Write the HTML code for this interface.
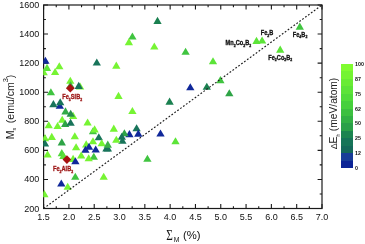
<!DOCTYPE html><html><head><meta charset="utf-8"><style>html,body{margin:0;padding:0;background:#fff}svg{display:block}text{font-family:"Liberation Sans",sans-serif}</style></head><body>
<svg width="365" height="244" viewBox="0 0 365 244">
<rect width="365" height="244" fill="#fff"/>
<defs><clipPath id="c"><rect x="43.2" y="5.0" width="278.79999999999995" height="203.5"/></clipPath></defs>
<rect x="43.6" y="5.0" width="278.4" height="203.5" fill="none" stroke="#1a1a1a" stroke-width="1.2"/>
<path d="M43.60 208.5v-4.4M43.60 5.0v4.4M56.25 208.5v-2.3M56.25 5.0v2.3M68.91 208.5v-4.4M68.91 5.0v4.4M81.56 208.5v-2.3M81.56 5.0v2.3M94.22 208.5v-4.4M94.22 5.0v4.4M106.87 208.5v-2.3M106.87 5.0v2.3M119.53 208.5v-4.4M119.53 5.0v4.4M132.18 208.5v-2.3M132.18 5.0v2.3M144.84 208.5v-4.4M144.84 5.0v4.4M157.49 208.5v-2.3M157.49 5.0v2.3M170.15 208.5v-4.4M170.15 5.0v4.4M182.80 208.5v-2.3M182.80 5.0v2.3M195.45 208.5v-4.4M195.45 5.0v4.4M208.11 208.5v-2.3M208.11 5.0v2.3M220.76 208.5v-4.4M220.76 5.0v4.4M233.42 208.5v-2.3M233.42 5.0v2.3M246.07 208.5v-4.4M246.07 5.0v4.4M258.73 208.5v-2.3M258.73 5.0v2.3M271.38 208.5v-4.4M271.38 5.0v4.4M284.04 208.5v-2.3M284.04 5.0v2.3M296.69 208.5v-4.4M296.69 5.0v4.4M309.35 208.5v-2.3M309.35 5.0v2.3M322.00 208.5v-4.4M322.00 5.0v4.4M43.6 208.50h4.4M322.0 208.50h-4.4M43.6 193.96h2.3M322.0 193.96h-2.3M43.6 179.43h4.4M322.0 179.43h-4.4M43.6 164.89h2.3M322.0 164.89h-2.3M43.6 150.36h4.4M322.0 150.36h-4.4M43.6 135.82h2.3M322.0 135.82h-2.3M43.6 121.29h4.4M322.0 121.29h-4.4M43.6 106.75h2.3M322.0 106.75h-2.3M43.6 92.21h4.4M322.0 92.21h-4.4M43.6 77.68h2.3M322.0 77.68h-2.3M43.6 63.14h4.4M322.0 63.14h-4.4M43.6 48.61h2.3M322.0 48.61h-2.3M43.6 34.07h4.4M322.0 34.07h-4.4M43.6 19.54h2.3M322.0 19.54h-2.3M43.6 5.00h4.4M322.0 5.00h-4.4" stroke="#1a1a1a" stroke-width="1.1" fill="none"/>
<g clip-path="url(#c)">
<path d="M45.4 56.65L49.55 63.75H41.25z" fill="#10289a"/>
<path d="M43.7 68.25L47.85 75.35H39.55z" fill="#76f433"/>
<path d="M47.0 63.85L51.15 70.95H42.85z" fill="#5ce438"/>
<path d="M59.3 62.25L63.45 69.35H55.15z" fill="#76f433"/>
<path d="M55.1 67.95L59.25 75.05H50.95z" fill="#76f433"/>
<path d="M96.8 58.45L100.95 65.55H92.65z" fill="#18745a"/>
<path d="M70.3 76.65L74.45 83.75H66.15z" fill="#76f433"/>
<path d="M70.5 81.15L74.65 88.25H66.35z" fill="#3cb848"/>
<path d="M80.1 82.45L84.25 89.55H75.95z" fill="#76f433"/>
<path d="M78.7 81.85L82.85 88.95H74.55z" fill="#18745a"/>
<path d="M50.9 88.15L55.05 95.25H46.75z" fill="#40c440"/>
<path d="M59.8 101.65L63.95 108.75H55.65z" fill="#10289a"/>
<path d="M60.2 98.15L64.35 105.25H56.05z" fill="#18745a"/>
<path d="M53.4 100.05L57.55 107.15H49.25z" fill="#18745a"/>
<path d="M65.5 107.35L69.65 114.45H61.35z" fill="#32aa48"/>
<path d="M73.1 111.85L77.25 118.95H68.95z" fill="#76f433"/>
<path d="M70.7 109.65L74.85 116.75H66.55z" fill="#268f4c"/>
<path d="M62.2 115.65L66.35 122.75H58.05z" fill="#76f433"/>
<path d="M65.2 119.85L69.35 126.95H61.05z" fill="#2ea446"/>
<path d="M70.6 118.75L74.75 125.85H66.45z" fill="#18745a"/>
<path d="M48.7 121.15L52.85 128.25H44.55z" fill="#76f433"/>
<path d="M57.6 121.95L61.75 129.05H53.45z" fill="#76f433"/>
<path d="M87.6 118.45L91.75 125.55H83.45z" fill="#76f433"/>
<path d="M93.0 127.15L97.15 134.25H88.85z" fill="#40c440"/>
<path d="M94.6 125.35L98.75 132.45H90.45z" fill="#76f433"/>
<path d="M98.8 133.15L102.95 140.25H94.65z" fill="#18745a"/>
<path d="M74.8 132.15L78.95 139.25H70.65z" fill="#76f433"/>
<path d="M51.8 132.85L55.95 139.95H47.65z" fill="#76f433"/>
<path d="M45.0 134.05L49.15 141.15H40.85z" fill="#76f433"/>
<path d="M45.0 139.45L49.15 146.55H40.85z" fill="#18745a"/>
<path d="M61.8 138.35L65.95 145.45H57.65z" fill="#2ea446"/>
<path d="M93.0 137.15L97.15 144.25H88.85z" fill="#76f433"/>
<path d="M86.2 140.35L90.35 147.45H82.05z" fill="#76f433"/>
<path d="M89.0 142.65L93.15 149.75H84.85z" fill="#10289a"/>
<path d="M76.1 143.25L80.25 150.35H71.95z" fill="#76f433"/>
<path d="M47.6 150.45L51.75 157.55H43.45z" fill="#76f433"/>
<path d="M61.8 149.05L65.95 156.15H57.65z" fill="#50d83c"/>
<path d="M63.4 151.85L67.55 158.95H59.25z" fill="#5ee038"/>
<path d="M73.1 154.85L77.25 161.95H68.95z" fill="#76f433"/>
<path d="M75.4 157.25L79.55 164.35H71.25z" fill="#10289a"/>
<path d="M85.4 145.65L89.55 152.75H81.25z" fill="#10289a"/>
<path d="M95.7 145.45L99.85 152.55H91.55z" fill="#10289a"/>
<path d="M93.8 152.65L97.95 159.75H89.65z" fill="#40c440"/>
<path d="M88.7 154.15L92.85 161.25H84.55z" fill="#76f433"/>
<path d="M81.2 151.45L85.35 158.55H77.05z" fill="#76f433"/>
<path d="M75.3 172.65L79.45 179.75H71.15z" fill="#40c440"/>
<path d="M61.3 179.45L65.45 186.55H57.15z" fill="#10289a"/>
<path d="M67.7 182.65L71.85 189.75H63.55z" fill="#76f433"/>
<path d="M44.4 190.05L48.50 197.15H40.20z" fill="#76f433"/>
<path d="M157.5 16.85L161.65 23.95H153.35z" fill="#1a8050"/>
<path d="M132.4 32.45L136.55 39.55H128.25z" fill="#40c440"/>
<path d="M128.9 38.05L133.05 45.15H124.75z" fill="#76f433"/>
<path d="M154.3 42.45L158.45 49.55H150.15z" fill="#76f433"/>
<path d="M116.3 61.55L120.45 68.65H112.15z" fill="#76f433"/>
<path d="M118.5 91.85L122.65 98.95H114.35z" fill="#76f433"/>
<path d="M132.4 106.95L136.55 114.05H128.25z" fill="#76f433"/>
<path d="M113.8 124.55L117.95 131.65H109.65z" fill="#76f433"/>
<path d="M136.6 124.25L140.75 131.35H132.45z" fill="#18745a"/>
<path d="M138.3 129.55L142.45 136.65H134.15z" fill="#10289a"/>
<path d="M129.4 130.05L133.55 137.15H125.25z" fill="#10289a"/>
<path d="M124.4 129.15L128.55 136.25H120.25z" fill="#2ea446"/>
<path d="M121.8 132.65L125.95 139.75H117.65z" fill="#18745a"/>
<path d="M122.4 136.65L126.55 143.75H118.25z" fill="#18745a"/>
<path d="M116.3 135.65L120.45 142.75H112.15z" fill="#76f433"/>
<path d="M160.5 129.45L164.65 136.55H156.35z" fill="#10289a"/>
<path d="M101.7 139.25L105.85 146.35H97.55z" fill="#76f433"/>
<path d="M106.4 144.45L110.55 151.55H102.25z" fill="#18745a"/>
<path d="M107.9 144.45L112.05 151.55H103.75z" fill="#18745a"/>
<path d="M107.8 140.55L111.95 147.65H103.65z" fill="#3cb048"/>
<path d="M147.4 154.75L151.55 161.85H143.25z" fill="#40c440"/>
<path d="M103.7 172.75L107.85 179.85H99.55z" fill="#76f433"/>
<path d="M185.6 47.65L189.75 54.75H181.45z" fill="#40c440"/>
<path d="M213.0 57.25L217.15 64.35H208.85z" fill="#5ce438"/>
<path d="M190.3 83.25L194.45 90.35H186.15z" fill="#10289a"/>
<path d="M206.8 82.65L210.95 89.75H202.65z" fill="#1a8050"/>
<path d="M169.6 97.55L173.75 104.65H165.45z" fill="#1a8050"/>
<path d="M175.5 137.15L179.65 144.25H171.35z" fill="#5ce438"/>
<path d="M256.5 36.85L260.65 43.95H252.35z" fill="#5ce438"/>
<path d="M262.1 36.45L266.25 43.55H257.95z" fill="#5ce438"/>
<path d="M299.8 22.55L303.95 29.65H295.65z" fill="#40c440"/>
<path d="M280.2 45.55L284.35 52.65H276.05z" fill="#5ce438"/>
<path d="M220.4 76.05L224.55 83.15H216.25z" fill="#40c440"/>
<path d="M229.3 89.25L233.45 96.35H225.15z" fill="#2ea446"/>
<path d="M70.3 83.85000000000001L74.64999999999999 88.2L70.3 92.55L65.95 88.2z" fill="#a81212"/>
<path d="M66.9 155.25L71.25 159.6L66.9 163.95L62.550000000000004 159.6z" fill="#a81212"/>
</g>
<line x1="43.6" y1="208.5" x2="322.0" y2="5.0" stroke="#1c1c1c" stroke-width="1.15" stroke-dasharray="1.8 1.8"/>
<text transform="translate(39.2,211.5) scale(0.95,1)" font-size="9.5" text-anchor="end" fill="#111">200</text>
<text transform="translate(39.2,182.4) scale(0.95,1)" font-size="9.5" text-anchor="end" fill="#111">400</text>
<text transform="translate(39.2,153.4) scale(0.95,1)" font-size="9.5" text-anchor="end" fill="#111">600</text>
<text transform="translate(39.2,124.3) scale(0.95,1)" font-size="9.5" text-anchor="end" fill="#111">800</text>
<text transform="translate(39.2,95.2) scale(0.95,1)" font-size="9.5" text-anchor="end" fill="#111">1000</text>
<text transform="translate(39.2,66.1) scale(0.95,1)" font-size="9.5" text-anchor="end" fill="#111">1200</text>
<text transform="translate(39.2,37.1) scale(0.95,1)" font-size="9.5" text-anchor="end" fill="#111">1400</text>
<text transform="translate(39.2,8.0) scale(0.95,1)" font-size="9.5" text-anchor="end" fill="#111">1600</text>
<text transform="translate(43.6,220.4) scale(0.95,1)" font-size="9.5" text-anchor="middle" fill="#111">1.5</text>
<text transform="translate(68.9,220.4) scale(0.95,1)" font-size="9.5" text-anchor="middle" fill="#111">2.0</text>
<text transform="translate(94.2,220.4) scale(0.95,1)" font-size="9.5" text-anchor="middle" fill="#111">2.5</text>
<text transform="translate(119.5,220.4) scale(0.95,1)" font-size="9.5" text-anchor="middle" fill="#111">3.0</text>
<text transform="translate(144.8,220.4) scale(0.95,1)" font-size="9.5" text-anchor="middle" fill="#111">3.5</text>
<text transform="translate(170.1,220.4) scale(0.95,1)" font-size="9.5" text-anchor="middle" fill="#111">4.0</text>
<text transform="translate(195.5,220.4) scale(0.95,1)" font-size="9.5" text-anchor="middle" fill="#111">4.5</text>
<text transform="translate(220.8,220.4) scale(0.95,1)" font-size="9.5" text-anchor="middle" fill="#111">5.0</text>
<text transform="translate(246.1,220.4) scale(0.95,1)" font-size="9.5" text-anchor="middle" fill="#111">5.5</text>
<text transform="translate(271.4,220.4) scale(0.95,1)" font-size="9.5" text-anchor="middle" fill="#111">6.0</text>
<text transform="translate(296.7,220.4) scale(0.95,1)" font-size="9.5" text-anchor="middle" fill="#111">6.5</text>
<text transform="translate(322.0,220.4) scale(0.95,1)" font-size="9.5" text-anchor="middle" fill="#111">7.0</text>
<text transform="translate(13.6,139.2) rotate(-90)" font-size="10.5" fill="#222">M<tspan font-size="5.5" dy="2">s</tspan><tspan dy="-2" dx="1.6"> (emu/cm</tspan><tspan font-size="7.5" dy="-6">3</tspan><tspan dy="6">)</tspan></text>
<text transform="translate(166.2,239.8) scale(0.78,1)" font-family="Liberation Serif,serif" style="font-family:'Liberation Serif',serif" font-size="14.5" fill="#111">Σ</text>
<text x="173.7" y="241.7" font-size="6.8" fill="#111">M</text>
<text x="183.0" y="239.1" font-size="11.3" fill="#111">(%)</text>
<text transform="translate(62.3,99.0) scale(0.895,1)" font-size="6.3" font-weight="bold" fill="#9c1414" stroke="#9c1414" stroke-width="0.3"><tspan dy="0">Fe</tspan><tspan font-size="3.9" dy="1.6">5</tspan><tspan dy="-1.6">SiB</tspan><tspan font-size="3.9" dy="1.6">2</tspan></text>
<text transform="translate(53.0,171.0) scale(0.895,1)" font-size="6.3" font-weight="bold" fill="#9c1414" stroke="#9c1414" stroke-width="0.3"><tspan dy="0">Fe</tspan><tspan font-size="3.9" dy="1.6">2</tspan><tspan dy="-1.6">AlB</tspan><tspan font-size="3.9" dy="1.6">2</tspan></text>
<text transform="translate(260.7,35.2) scale(0.895,1)" font-size="6.3" font-weight="bold" fill="#111" stroke="#111" stroke-width="0.3"><tspan dy="0">Fe</tspan><tspan font-size="3.9" dy="1.6">2</tspan><tspan dy="-1.6">B</tspan></text>
<text transform="translate(225.6,44.9) scale(0.895,1)" font-size="6.3" font-weight="bold" fill="#111" stroke="#111" stroke-width="0.3"><tspan dy="0">Mn</tspan><tspan font-size="3.9" dy="1.6">2</tspan><tspan dy="-1.6">Co</tspan><tspan font-size="3.9" dy="1.6">2</tspan><tspan dy="-1.6">B</tspan><tspan font-size="3.9" dy="1.6">2</tspan></text>
<text transform="translate(292.8,36.8) scale(0.895,1)" font-size="6.3" font-weight="bold" fill="#111" stroke="#111" stroke-width="0.3"><tspan dy="0">Fe</tspan><tspan font-size="3.9" dy="1.6">4</tspan><tspan dy="-1.6">B</tspan><tspan font-size="3.9" dy="1.6">2</tspan></text>
<text transform="translate(268.3,59.5) scale(0.895,1)" font-size="6.3" font-weight="bold" fill="#111" stroke="#111" stroke-width="0.3"><tspan dy="0">Fe</tspan><tspan font-size="3.9" dy="1.6">2</tspan><tspan dy="-1.6">Co</tspan><tspan font-size="3.9" dy="1.6">2</tspan><tspan dy="-1.6">B</tspan><tspan font-size="3.9" dy="1.6">2</tspan></text>
<rect shape-rendering="crispEdges" x="341.2" y="63.90" width="12.1" height="7.74" fill="#80fc30"/>
<rect shape-rendering="crispEdges" x="341.2" y="71.34" width="12.1" height="7.74" fill="#74f432"/>
<rect shape-rendering="crispEdges" x="341.2" y="78.79" width="12.1" height="7.74" fill="#68ec34"/>
<rect shape-rendering="crispEdges" x="341.2" y="86.23" width="12.1" height="7.74" fill="#5ce438"/>
<rect shape-rendering="crispEdges" x="341.2" y="93.67" width="12.1" height="7.74" fill="#50dc3a"/>
<rect shape-rendering="crispEdges" x="341.2" y="101.11" width="12.1" height="7.74" fill="#46d03c"/>
<rect shape-rendering="crispEdges" x="341.2" y="108.56" width="12.1" height="7.74" fill="#3cc040"/>
<rect shape-rendering="crispEdges" x="341.2" y="116.00" width="12.1" height="7.74" fill="#32b044"/>
<rect shape-rendering="crispEdges" x="341.2" y="123.44" width="12.1" height="7.74" fill="#2aa048"/>
<rect shape-rendering="crispEdges" x="341.2" y="130.89" width="12.1" height="7.74" fill="#1c8450"/>
<rect shape-rendering="crispEdges" x="341.2" y="138.33" width="12.1" height="7.74" fill="#167458"/>
<rect shape-rendering="crispEdges" x="341.2" y="145.77" width="12.1" height="7.74" fill="#14685a"/>
<rect shape-rendering="crispEdges" x="341.2" y="153.21" width="12.1" height="7.74" fill="#183c98"/>
<rect shape-rendering="crispEdges" x="341.2" y="160.66" width="12.1" height="7.44" fill="#0c2496"/>
<text x="355.0" y="65.8" font-size="5.3" font-weight="bold" fill="#111">100</text>
<text x="355.0" y="80.7" font-size="5.3" font-weight="bold" fill="#111">87</text>
<text x="355.0" y="95.6" font-size="5.3" font-weight="bold" fill="#111">75</text>
<text x="355.0" y="110.5" font-size="5.3" font-weight="bold" fill="#111">62</text>
<text x="355.0" y="125.3" font-size="5.3" font-weight="bold" fill="#111">50</text>
<text x="355.0" y="140.2" font-size="5.3" font-weight="bold" fill="#111">25</text>
<text x="355.0" y="155.1" font-size="5.3" font-weight="bold" fill="#111">12</text>
<text x="355.0" y="170.0" font-size="5.3" font-weight="bold" fill="#111">0</text>
<text transform="translate(336.6,149.2) rotate(-90) scale(0.975,1)" font-size="10.5" fill="#222"><tspan font-size="9.3">Δ</tspan><tspan dx="-0.3">E</tspan><tspan font-size="4.8" dy="3.2">h</tspan><tspan dy="-3.2"> (meV/atom)</tspan></text>
</svg></body></html>
